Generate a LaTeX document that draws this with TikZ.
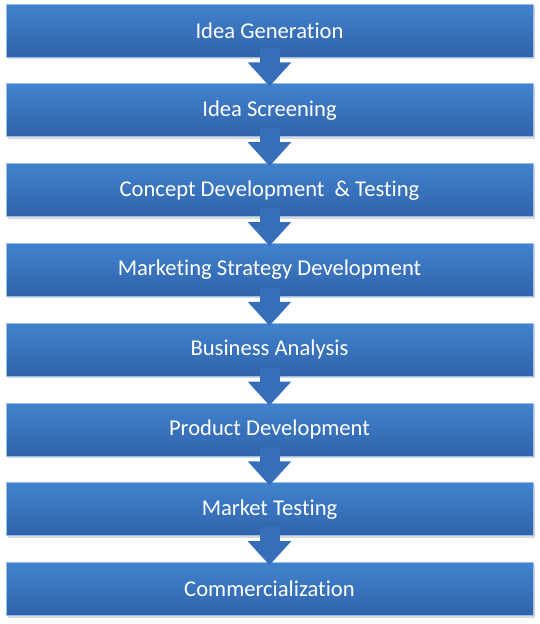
\documentclass[tikz,border=0pt]{standalone}
\usepackage{fontspec}
\setmainfont{Carlito}[Ligatures=NoCommon]
\usetikzlibrary{positioning,arrows.meta,shadows}
\definecolor{stagetop}{RGB}{66,130,206}
\definecolor{stagebot}{RGB}{48,99,170}
\definecolor{stageedge}{RGB}{150,190,235}
\definecolor{arrowblue}{RGB}{55,110,185}

\begin{document}
\begin{tikzpicture}[x=1pt,y=1pt,
  stage/.style={rectangle, minimum width=527pt, minimum height=53pt, inner sep=0pt,
    top color=stagetop, bottom color=stagebot, draw=stageedge, line width=0.8pt,
    drop shadow={opacity=0.3, shadow xshift=1.5pt, shadow yshift=-2pt},
    text=white, font=\fontsize{22.6}{26}\selectfont},
  flow/.style={draw=arrowblue, line width=20pt,
    -{Triangle[width=42pt,length=24pt]}, shorten <=-9pt, shorten >=-3pt},
  node distance=26pt]
  \useasboundingbox (0,0) rectangle (539,-624);

  \node [stage] (idea) at (269.5,-30.5) {Idea Generation};
  \node [stage, below=of idea] (screen) {Idea Screening};
  \node [stage, below=of screen] (concept) {Concept Development \ \& Testing};
  \node [stage, below=of concept] (strategy) {Marketing Strategy Development};
  \node [stage, below=of strategy] (business) {Business Analysis};
  \node [stage, below=of business] (product) {Product Development};
  \node [stage, below=of product] (testing) {Market Testing};
  \node [stage, below=of testing] (launch) {Commercialization};

  \foreach \a/\b in {idea/screen, screen/concept, concept/strategy, strategy/business,
    business/product, product/testing, testing/launch}
    \draw [flow] (\a.south) -- (\b.north);
\end{tikzpicture}
\end{document}
